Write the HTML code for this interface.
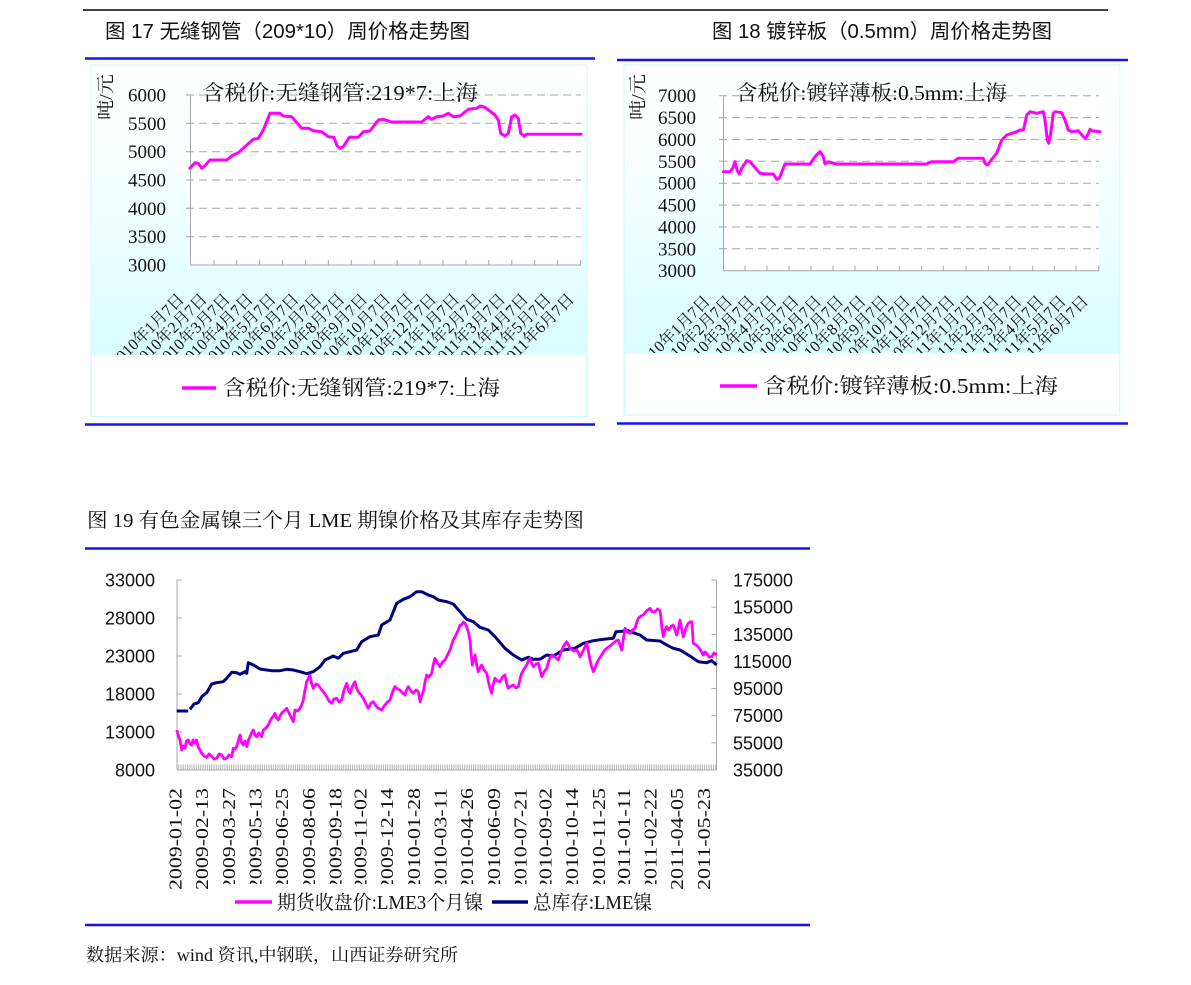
<!DOCTYPE html>
<html><head><meta charset="utf-8"><style>
html,body{margin:0;padding:0;background:#fff;}
svg{display:block;}
.ser{font-family:"Liberation Serif","Noto Serif CJK SC",serif;}
.san{font-family:"Liberation Sans","Noto Sans CJK SC",sans-serif;}
</style></head><body>
<svg width="1191" height="985" viewBox="0 0 1191 985" xmlns="http://www.w3.org/2000/svg">
<defs>
<linearGradient id="bg17" x1="0" y1="0" x2="0" y2="1">
<stop offset="0" stop-color="#ffffff"/><stop offset="0.25" stop-color="#fbffff"/><stop offset="1" stop-color="#ccfcfc"/>
</linearGradient>
<pattern id="hatch" width="2.2" height="6" patternUnits="userSpaceOnUse">
<line x1="0.6" y1="0" x2="0.6" y2="6" stroke="#a8a8a8" stroke-width="0.9"/>
</pattern>
<clipPath id="c17"><rect x="85" y="270" width="510" height="85"/></clipPath>
<clipPath id="c18"><rect x="615" y="272" width="510" height="81"/></clipPath>
</defs>

<!-- top black rule -->
<line x1="83" y1="10" x2="1108" y2="10" stroke="#000" stroke-width="1.5"/>

<!-- ================= CHART 17 ================= -->
<text class="san" x="105" y="38" font-size="20" fill="#111" textLength="365" lengthAdjust="spacingAndGlyphs">图 17 无缝钢管（209*10）周价格走势图</text>
<line x1="85" y1="58.5" x2="595" y2="58.5" stroke="#1414f0" stroke-width="2.5"/>
<rect x="91" y="65" width="496" height="352" fill="url(#bg17)" stroke="#d6f6f6" stroke-width="1"/>
<rect x="190" y="95" width="391" height="170" fill="#fff"/>
<g stroke="#a6a6a6" stroke-width="1" stroke-dasharray="8,5">
<line x1="186" y1="95" x2="581" y2="95"/>
<line x1="186" y1="123.3" x2="581" y2="123.3"/>
<line x1="186" y1="151.7" x2="581" y2="151.7"/>
<line x1="186" y1="180" x2="581" y2="180"/>
<line x1="186" y1="208.3" x2="581" y2="208.3"/>
<line x1="186" y1="236.7" x2="581" y2="236.7"/>
</g>
<g stroke="#a6a6a6" stroke-width="1">
<line x1="190.5" y1="95" x2="190.5" y2="265"/>
<line x1="190" y1="265" x2="581" y2="265"/>
<line x1="214" y1="260" x2="214" y2="265"/><line x1="236.7" y1="260" x2="236.7" y2="265"/><line x1="259.5" y1="260" x2="259.5" y2="265"/><line x1="282.5" y1="260" x2="282.5" y2="265"/><line x1="305.5" y1="260" x2="305.5" y2="265"/><line x1="328.3" y1="260" x2="328.3" y2="265"/><line x1="351.3" y1="260" x2="351.3" y2="265"/><line x1="374.3" y1="260" x2="374.3" y2="265"/><line x1="397.2" y1="260" x2="397.2" y2="265"/><line x1="420" y1="260" x2="420" y2="265"/><line x1="443" y1="260" x2="443" y2="265"/><line x1="466" y1="260" x2="466" y2="265"/><line x1="488.8" y1="260" x2="488.8" y2="265"/><line x1="511.8" y1="260" x2="511.8" y2="265"/><line x1="534.7" y1="260" x2="534.7" y2="265"/><line x1="557.6" y1="260" x2="557.6" y2="265"/><line x1="580.5" y1="260" x2="580.5" y2="265"/>
</g>
<g class="ser" font-size="19" fill="#111" text-anchor="end">
<text x="166" y="101.5">6000</text><text x="166" y="129.8">5500</text><text x="166" y="158.2">5000</text><text x="166" y="186.5">4500</text><text x="166" y="214.8">4000</text><text x="166" y="243.2">3500</text><text x="166" y="271.5">3000</text>
</g>
<text class="ser" font-size="18" fill="#111" transform="translate(112,120) rotate(-90)" textLength="46" lengthAdjust="spacingAndGlyphs">吨/元</text>
<text class="ser" x="202" y="100" font-size="21" fill="#111" textLength="276" lengthAdjust="spacingAndGlyphs">含税价:无缝钢管:219*7:上海</text>
<polyline fill="none" stroke="#ff00ff" stroke-width="3" stroke-linejoin="round" stroke-linecap="round" points="190,168.3 195,162.7 198.3,163.3 201.7,168.3 204,166.7 210,160 226.7,160 233.3,155 238.3,152.7 246.7,145 253.3,139.3 258.3,138.3 263.3,130 270,113.3 280,113.3 283.3,116 291.7,116.7 301.7,128.3 308.3,128.3 313.3,130.7 321.7,131.7 328.3,136.7 334,137.3 336.7,145 340,148.3 343.3,146.7 349.3,137.3 358.3,137.3 363.3,131.7 370,131 378.3,120 383.3,119.3 391.7,122 421.7,122 428.3,116.7 431.7,119.3 436.7,116.7 443.3,116 448.3,113.3 453.3,116.7 460,116 468.3,109.3 476.7,108.3 480,106 485,107.3 495,115 498.3,120 500.7,133.3 505,136 508.3,133.3 511.7,116.7 515,115 518.3,118.3 520.7,133.3 524,136 526.7,134.3 581,134.3"/>
<g class="ser" font-size="16" fill="#111" text-anchor="end" clip-path="url(#c17)">
<text transform="translate(185,300) rotate(-45)" textLength="96" lengthAdjust="spacingAndGlyphs">2010年1月7日</text>
<text transform="translate(207.9,300) rotate(-45)" textLength="96" lengthAdjust="spacingAndGlyphs">2010年2月7日</text>
<text transform="translate(230.9,300) rotate(-45)" textLength="96" lengthAdjust="spacingAndGlyphs">2010年3月7日</text>
<text transform="translate(253.8,300) rotate(-45)" textLength="96" lengthAdjust="spacingAndGlyphs">2010年4月7日</text>
<text transform="translate(276.8,300) rotate(-45)" textLength="96" lengthAdjust="spacingAndGlyphs">2010年5月7日</text>
<text transform="translate(299.7,300) rotate(-45)" textLength="96" lengthAdjust="spacingAndGlyphs">2010年6月7日</text>
<text transform="translate(322.6,300) rotate(-45)" textLength="96" lengthAdjust="spacingAndGlyphs">2010年7月7日</text>
<text transform="translate(345.6,300) rotate(-45)" textLength="96" lengthAdjust="spacingAndGlyphs">2010年8月7日</text>
<text transform="translate(368.5,300) rotate(-45)" textLength="96" lengthAdjust="spacingAndGlyphs">2010年9月7日</text>
<text transform="translate(391.5,300) rotate(-45)" textLength="104" lengthAdjust="spacingAndGlyphs">2010年10月7日</text>
<text transform="translate(414.4,300) rotate(-45)" textLength="104" lengthAdjust="spacingAndGlyphs">2010年11月7日</text>
<text transform="translate(437.3,300) rotate(-45)" textLength="104" lengthAdjust="spacingAndGlyphs">2010年12月7日</text>
<text transform="translate(460.3,300) rotate(-45)" textLength="96" lengthAdjust="spacingAndGlyphs">2011年1月7日</text>
<text transform="translate(483.2,300) rotate(-45)" textLength="96" lengthAdjust="spacingAndGlyphs">2011年2月7日</text>
<text transform="translate(506.2,300) rotate(-45)" textLength="96" lengthAdjust="spacingAndGlyphs">2011年3月7日</text>
<text transform="translate(529.1,300) rotate(-45)" textLength="96" lengthAdjust="spacingAndGlyphs">2011年4月7日</text>
<text transform="translate(552,300) rotate(-45)" textLength="96" lengthAdjust="spacingAndGlyphs">2011年5月7日</text>
<text transform="translate(575,300) rotate(-45)" textLength="96" lengthAdjust="spacingAndGlyphs">2011年6月7日</text>
</g>
<rect x="92" y="355" width="494" height="61" fill="#fff"/>
<line x1="586.5" y1="355" x2="586.5" y2="417" stroke="#d0f6f6" stroke-width="1.5"/>
<line x1="182" y1="388" x2="216" y2="388" stroke="#ff00ff" stroke-width="3.5"/>
<text class="ser" x="223" y="395" font-size="21" fill="#111" textLength="277" lengthAdjust="spacingAndGlyphs">含税价:无缝钢管:219*7:上海</text>
<line x1="85" y1="424.5" x2="595" y2="424.5" stroke="#1414f0" stroke-width="2.5"/>

<!-- ================= CHART 18 ================= -->
<text class="san" x="712" y="38" font-size="20" fill="#111" textLength="340" lengthAdjust="spacingAndGlyphs">图 18  镀锌板（0.5mm）周价格走势图</text>
<line x1="617" y1="60" x2="1128" y2="60" stroke="#1414f0" stroke-width="2.5"/>
<rect x="624" y="65" width="496" height="350" fill="url(#bg17)" stroke="#d6f6f6" stroke-width="1"/>
<rect x="723" y="95.7" width="376" height="175" fill="#fff"/>
<g stroke="#a6a6a6" stroke-width="1" stroke-dasharray="8,5">
<line x1="719" y1="95.7" x2="1099" y2="95.7"/>
<line x1="719" y1="117.6" x2="1099" y2="117.6"/>
<line x1="719" y1="139.5" x2="1099" y2="139.5"/>
<line x1="719" y1="161.3" x2="1099" y2="161.3"/>
<line x1="719" y1="183.2" x2="1099" y2="183.2"/>
<line x1="719" y1="205.1" x2="1099" y2="205.1"/>
<line x1="719" y1="227" x2="1099" y2="227"/>
<line x1="719" y1="248.8" x2="1099" y2="248.8"/>
</g>
<g stroke="#a6a6a6" stroke-width="1">
<line x1="723.5" y1="95.7" x2="723.5" y2="270.7"/>
<line x1="723" y1="270.7" x2="1099" y2="270.7"/>
<line x1="745" y1="265.7" x2="745" y2="270.7"/><line x1="767" y1="265.7" x2="767" y2="270.7"/><line x1="789" y1="265.7" x2="789" y2="270.7"/><line x1="811" y1="265.7" x2="811" y2="270.7"/><line x1="833" y1="265.7" x2="833" y2="270.7"/><line x1="855" y1="265.7" x2="855" y2="270.7"/><line x1="877.3" y1="265.7" x2="877.3" y2="270.7"/><line x1="899.3" y1="265.7" x2="899.3" y2="270.7"/><line x1="921.7" y1="265.7" x2="921.7" y2="270.7"/><line x1="943.3" y1="265.7" x2="943.3" y2="270.7"/><line x1="966" y1="265.7" x2="966" y2="270.7"/><line x1="988.3" y1="265.7" x2="988.3" y2="270.7"/><line x1="1010" y1="265.7" x2="1010" y2="270.7"/><line x1="1032.7" y1="265.7" x2="1032.7" y2="270.7"/><line x1="1054.3" y1="265.7" x2="1054.3" y2="270.7"/><line x1="1076" y1="265.7" x2="1076" y2="270.7"/><line x1="1098.8" y1="265.7" x2="1098.8" y2="270.7"/>
</g>
<g class="ser" font-size="19" fill="#111" text-anchor="end">
<text x="696" y="102.2">7000</text><text x="696" y="124.1">6500</text><text x="696" y="146">6000</text><text x="696" y="167.8">5500</text><text x="696" y="189.7">5000</text><text x="696" y="211.6">4500</text><text x="696" y="233.5">4000</text><text x="696" y="255.3">3500</text><text x="696" y="277.2">3000</text>
</g>
<text class="ser" font-size="18" fill="#111" transform="translate(644,120) rotate(-90)" textLength="46" lengthAdjust="spacingAndGlyphs">吨/元</text>
<text class="ser" x="736" y="100" font-size="21" fill="#111" textLength="271" lengthAdjust="spacingAndGlyphs">含税价:镀锌薄板:0.5mm:上海</text>
<polyline fill="none" stroke="#ff00ff" stroke-width="3" stroke-linejoin="round" stroke-linecap="round" points="723.3,171.7 730,171.7 732.7,168.3 735,161.7 737.3,170.7 739.3,174 741.7,168.3 746.7,160.7 750,161.7 760,173.3 766.7,174 773.3,174 776.7,179.3 779.3,178.3 785,164 790,164 810,164 815,156.7 820,151.7 823.3,156.7 825,164 828.3,161.7 831.7,162.7 836.7,164 926.7,164 931.7,161.7 953.3,161.7 958.3,158.3 983.3,158.3 985,163.3 987.7,165 991.7,159.3 996.7,153.3 1001.7,140 1006.7,135 1016.7,131.7 1020,130 1023.3,130 1025,123.3 1026.7,115 1030,111.7 1036.7,113.3 1043.3,111.7 1045,120 1047.3,140 1048.7,143.3 1050.7,133.3 1053.3,113.3 1055,111.7 1061.7,112.7 1065,120 1068.3,130 1071.7,131.7 1078.3,130.7 1083.3,136.7 1086,138.3 1090,129.3 1091.7,130.7 1100,131.7"/>
<g class="ser" font-size="16" fill="#111" text-anchor="end" clip-path="url(#c18)">
<text transform="translate(711,302) rotate(-45)" textLength="96" lengthAdjust="spacingAndGlyphs">2010年1月7日</text>
<text transform="translate(733.3,302) rotate(-45)" textLength="96" lengthAdjust="spacingAndGlyphs">2010年2月7日</text>
<text transform="translate(755.5,302) rotate(-45)" textLength="96" lengthAdjust="spacingAndGlyphs">2010年3月7日</text>
<text transform="translate(777.8,302) rotate(-45)" textLength="96" lengthAdjust="spacingAndGlyphs">2010年4月7日</text>
<text transform="translate(800,302) rotate(-45)" textLength="96" lengthAdjust="spacingAndGlyphs">2010年5月7日</text>
<text transform="translate(822.3,302) rotate(-45)" textLength="96" lengthAdjust="spacingAndGlyphs">2010年6月7日</text>
<text transform="translate(844.5,302) rotate(-45)" textLength="96" lengthAdjust="spacingAndGlyphs">2010年7月7日</text>
<text transform="translate(866.8,302) rotate(-45)" textLength="96" lengthAdjust="spacingAndGlyphs">2010年8月7日</text>
<text transform="translate(889,302) rotate(-45)" textLength="96" lengthAdjust="spacingAndGlyphs">2010年9月7日</text>
<text transform="translate(911.3,302) rotate(-45)" textLength="104" lengthAdjust="spacingAndGlyphs">2010年10月7日</text>
<text transform="translate(933.5,302) rotate(-45)" textLength="104" lengthAdjust="spacingAndGlyphs">2010年11月7日</text>
<text transform="translate(955.8,302) rotate(-45)" textLength="104" lengthAdjust="spacingAndGlyphs">2010年12月7日</text>
<text transform="translate(978,302) rotate(-45)" textLength="96" lengthAdjust="spacingAndGlyphs">2011年1月7日</text>
<text transform="translate(1000.3,302) rotate(-45)" textLength="96" lengthAdjust="spacingAndGlyphs">2011年2月7日</text>
<text transform="translate(1022.5,302) rotate(-45)" textLength="96" lengthAdjust="spacingAndGlyphs">2011年3月7日</text>
<text transform="translate(1044.8,302) rotate(-45)" textLength="96" lengthAdjust="spacingAndGlyphs">2011年4月7日</text>
<text transform="translate(1067,302) rotate(-45)" textLength="96" lengthAdjust="spacingAndGlyphs">2011年5月7日</text>
<text transform="translate(1089.3,302) rotate(-45)" textLength="96" lengthAdjust="spacingAndGlyphs">2011年6月7日</text>
</g>
<rect x="625" y="353" width="494" height="61.5" fill="#fff"/>
<line x1="624" y1="415" x2="1120" y2="415" stroke="#d0f6f6" stroke-width="1"/>
<line x1="720" y1="386" x2="757" y2="386" stroke="#ff00ff" stroke-width="3.5"/>
<text class="ser" x="763" y="393" font-size="21" fill="#111" textLength="295" lengthAdjust="spacingAndGlyphs">含税价:镀锌薄板:0.5mm:上海</text>
<line x1="617" y1="423.5" x2="1128" y2="423.5" stroke="#1414f0" stroke-width="2.5"/>

<!-- ================= CHART 19 ================= -->
<text class="ser" x="87" y="527" font-size="20" fill="#111" textLength="497" lengthAdjust="spacingAndGlyphs">图 19 有色金属镍三个月 LME 期镍价格及其库存走势图</text>
<line x1="85" y1="548.5" x2="810" y2="548.5" stroke="#1414f0" stroke-width="2.5"/>

<g stroke="#a8a8a8" stroke-width="1">
<line x1="177" y1="580" x2="177" y2="770"/>
<line x1="716.5" y1="580" x2="716.5" y2="770"/>
<line x1="177" y1="770" x2="716.5" y2="770"/>
<line x1="177" y1="580" x2="182" y2="580"/><line x1="177" y1="618" x2="182" y2="618"/><line x1="177" y1="656" x2="182" y2="656"/><line x1="177" y1="694" x2="182" y2="694"/><line x1="177" y1="732" x2="182" y2="732"/>
<line x1="711.5" y1="580" x2="716.5" y2="580"/><line x1="711.5" y1="607.1" x2="716.5" y2="607.1"/><line x1="711.5" y1="634.3" x2="716.5" y2="634.3"/><line x1="711.5" y1="661.4" x2="716.5" y2="661.4"/><line x1="711.5" y1="688.6" x2="716.5" y2="688.6"/><line x1="711.5" y1="715.7" x2="716.5" y2="715.7"/><line x1="711.5" y1="742.9" x2="716.5" y2="742.9"/>
</g>
<rect x="177" y="764.5" width="539" height="5.5" fill="url(#hatch)"/>

<g class="san" font-size="18" fill="#111" text-anchor="end">
<text x="155" y="586.5">33000</text><text x="155" y="624.5">28000</text><text x="155" y="662.5">23000</text><text x="155" y="700.5">18000</text><text x="155" y="738.5">13000</text><text x="155" y="776.5">8000</text>
</g>
<g class="san" font-size="18" fill="#111">
<text x="733" y="586.5">175000</text><text x="733" y="613.6">155000</text><text x="733" y="640.8">135000</text><text x="733" y="667.9">115000</text><text x="733" y="695.1">95000</text><text x="733" y="722.2">75000</text><text x="733" y="749.4">55000</text><text x="733" y="776.5">35000</text>
</g>

<!-- navy: stock -->
<polyline fill="none" stroke="#000080" stroke-width="3" stroke-linejoin="round" points="176.7,711 188.3,711"/>
<polyline fill="none" stroke="#000080" stroke-width="3" stroke-linejoin="round" points="190,709.3 194,704 198.3,702.7 201.7,696.7 206.7,692.7 211.7,684 216.7,682.7 223.3,681.7 226.7,678.3 231.7,672.3 236.7,672.7 240,674.3 245,671.7 246.7,673.3 248.3,662.7 253.3,665 260,669 266.7,670 271.7,670.7 280,670.7 286.7,669.3 293.3,670 300,671.7 306.7,673.7 313.3,671.7 320,666.7 325,660 333.3,656 338.3,658.3 343.3,653.3 350,651.7 356.7,650 361.7,641.7 370,636.7 378.3,635 381.7,625 390,620 396.7,603.3 403.3,599.3 410,596.7 416.7,591.7 421.7,591.7 428.3,595 433.3,596.7 438.3,600 446.7,601.7 453.3,604 460,611.7 466.7,619.3 473.3,621.7 480,627.3 488.3,630 495,636.7 505,648.3 513.3,655 521.7,660 528.3,657.3 533.3,659.3 540,659.3 546.7,655 553.3,656 563.3,650 575,648.3 583.3,643.3 593.3,640.7 603.3,639.3 613.3,638.3 616,631.7 628.3,630.7 633.3,632.7 640,635 646.7,640 660,641 666.7,645 673.3,648.3 680,650 690,656 698.3,661.7 706.7,662.7 711.7,660.7 716.7,665"/>
<!-- pink: price -->
<polyline fill="none" stroke="#ff00ff" stroke-width="2.8" stroke-linejoin="round" points="176.7,730 178.5,736 180,740 181.7,750 183,746 185,748.3 186.5,741 188.3,740 190,744 191.7,745 193,740 195,743.3 196.5,740 198.3,747.3 200,750 201.7,753.3 204,756 206.7,757.3 209,754 211.7,756 214,759 216.7,758.3 219,754 221.7,755 224,759 226.7,758.3 229,755 231.7,756.7 233.3,748.3 235,749 236.7,746.7 238.5,740 240,735 241.5,742 243.3,745 245,741 246.7,746.7 248.5,740 250,736.7 251.5,733 253.3,730 255,735 256.7,736.7 259,733 261.7,736.7 263.3,730 266,728 268.3,725 270,721 271.7,718.3 273.5,716 275,713.3 276.5,718 278.3,720 280,716 281.7,713.3 284,711 286.7,708.3 288.5,712 290,715 291.5,718 293.3,721.7 295,710 297.5,711 300,708.3 302,704 303.3,700 305,690 306.7,681.7 308.5,678 310,675 311.5,683 313.3,688.3 316,684 318.3,685 321,689 323.3,691.7 325,694 326.7,696.7 329,701 331.7,703.3 334,699 336.7,698.3 339,702 341.7,700 344,690 346.7,683.3 348.5,690 350,693.3 352.5,686 355,681.7 356.5,688 358.3,691.7 361,695 363.3,698.3 366,704 368.3,708.3 371,703 373.3,701.7 376,706 378.3,708.3 380,709 381.7,710 383.5,707 385,705 387.5,702 390,700 392.5,692 395,686.7 397.5,689 400,690 402.5,693 405,695 406.5,690 408.3,686.7 411,691 413.3,693.3 416,690 418.3,691.7 420,701.7 421.5,696 423.3,691.7 425,682 426.7,675 429,677 431.7,673.3 433.5,664 435,658.3 437.5,663 440,666.7 442.5,662 445,660 447.5,655 450,650 451.5,645 453.3,640 455,637 456.7,633.3 458.3,630 460,625 461.7,625 463.3,622 465,623.3 466.7,627 468.3,631.7 470,640 471,652 472.3,665 473.5,660 475,655 476.5,664 478.3,671.7 480,668 481.7,665 484,670 486.7,673.3 488.5,682 490,688.3 491.7,693.3 493,685 495,678.3 497.5,681 500,681.7 502.5,677 505,675 506.5,683 508.3,688.3 511,686 513.3,685 516,688 518.3,686.7 520,679 521.7,673.3 524,669 526.7,665 528.5,661 530,658.3 531.5,663 533.3,666.7 536,664 538.3,663.3 540,670 541.7,676.7 544,672 546.7,668.3 549,660 551.7,655 555,657 558.3,660 561,652 563.3,646.7 565,644 566.7,641.7 568.5,645 570,648.3 573.5,651 576.7,650 578.5,653 580,656.7 583.5,650 586.7,643.3 588.5,652 590,660 591.5,666 593.3,671.7 595,668 596.7,663.3 599,659 601.7,655 604,651 606.7,648.3 610,646 613.3,643.3 616,641 618.3,640 620,645 621.7,650 623.5,638 625,628.3 627.5,632 630,633.3 632.5,630 635,628.3 636.5,623 638.3,618.3 641,616 643.3,615 646.5,611 650,608.3 652.5,612 655,611.7 657.5,609 660,610.7 661,618 661.7,626.7 663.3,636.7 665,630 666.7,626.7 668.5,630 670,628.3 671.5,626 673.3,625 675,630 676.7,635 678.5,628 680,620 681.5,628 683.3,636.7 686,628 688.3,623.3 690,622 691.7,621.7 692.5,632 693.3,643.3 696,645 698.3,646.7 701,651 703.3,655 705,652 706.7,653.3 709,657 711.7,656.7 714,653 716.7,655"/>

<g class="ser" font-size="18" fill="#111" text-anchor="end">
<text transform="translate(181.5,788) rotate(-90)" textLength="102" lengthAdjust="spacingAndGlyphs">2009-01-02</text>
<text transform="translate(208.2,788) rotate(-90)" textLength="102" lengthAdjust="spacingAndGlyphs">2009-02-13</text>
<text transform="translate(234.8,788) rotate(-90)" textLength="102" lengthAdjust="spacingAndGlyphs">2009-03-27</text>
<text transform="translate(261.5,788) rotate(-90)" textLength="102" lengthAdjust="spacingAndGlyphs">2009-05-13</text>
<text transform="translate(288.2,788) rotate(-90)" textLength="102" lengthAdjust="spacingAndGlyphs">2009-06-25</text>
<text transform="translate(314.8,788) rotate(-90)" textLength="102" lengthAdjust="spacingAndGlyphs">2009-08-06</text>
<text transform="translate(341.5,788) rotate(-90)" textLength="102" lengthAdjust="spacingAndGlyphs">2009-09-18</text>
<text transform="translate(366.5,788) rotate(-90)" textLength="102" lengthAdjust="spacingAndGlyphs">2009-11-02</text>
<text transform="translate(393.2,788) rotate(-90)" textLength="102" lengthAdjust="spacingAndGlyphs">2009-12-14</text>
<text transform="translate(419.8,788) rotate(-90)" textLength="102" lengthAdjust="spacingAndGlyphs">2010-01-28</text>
<text transform="translate(446.5,788) rotate(-90)" textLength="102" lengthAdjust="spacingAndGlyphs">2010-03-11</text>
<text transform="translate(473.2,788) rotate(-90)" textLength="102" lengthAdjust="spacingAndGlyphs">2010-04-26</text>
<text transform="translate(499.8,788) rotate(-90)" textLength="102" lengthAdjust="spacingAndGlyphs">2010-06-09</text>
<text transform="translate(526.5,788) rotate(-90)" textLength="102" lengthAdjust="spacingAndGlyphs">2010-07-21</text>
<text transform="translate(551.5,788) rotate(-90)" textLength="102" lengthAdjust="spacingAndGlyphs">2010-09-02</text>
<text transform="translate(578.2,788) rotate(-90)" textLength="102" lengthAdjust="spacingAndGlyphs">2010-10-14</text>
<text transform="translate(604.8,788) rotate(-90)" textLength="102" lengthAdjust="spacingAndGlyphs">2010-11-25</text>
<text transform="translate(629.8,788) rotate(-90)" textLength="102" lengthAdjust="spacingAndGlyphs">2011-01-11</text>
<text transform="translate(656.5,788) rotate(-90)" textLength="102" lengthAdjust="spacingAndGlyphs">2011-02-22</text>
<text transform="translate(683.2,788) rotate(-90)" textLength="102" lengthAdjust="spacingAndGlyphs">2011-04-05</text>
<text transform="translate(709.8,788) rotate(-90)" textLength="102" lengthAdjust="spacingAndGlyphs">2011-05-23</text>
</g>
<rect x="216" y="884" width="448" height="10" fill="#fff"/>

<line x1="235" y1="902" x2="272" y2="902" stroke="#ff00ff" stroke-width="3.5"/>
<text class="ser" x="277" y="909" font-size="19.5" fill="#111" textLength="206" lengthAdjust="spacingAndGlyphs">期货收盘价:LME3个月镍</text>
<line x1="492" y1="902" x2="528" y2="902" stroke="#000080" stroke-width="3.5"/>
<text class="ser" x="533" y="909" font-size="19.5" fill="#111" textLength="119" lengthAdjust="spacingAndGlyphs">总库存:LME镍</text>
<line x1="85" y1="925" x2="810" y2="925" stroke="#1414f0" stroke-width="2.5"/>

<text class="ser" x="86" y="961" font-size="17.5" fill="#111" textLength="372" lengthAdjust="spacingAndGlyphs">数据来源：wind 资讯,中钢联，山西证券研究所</text>
</svg>
</body></html>
